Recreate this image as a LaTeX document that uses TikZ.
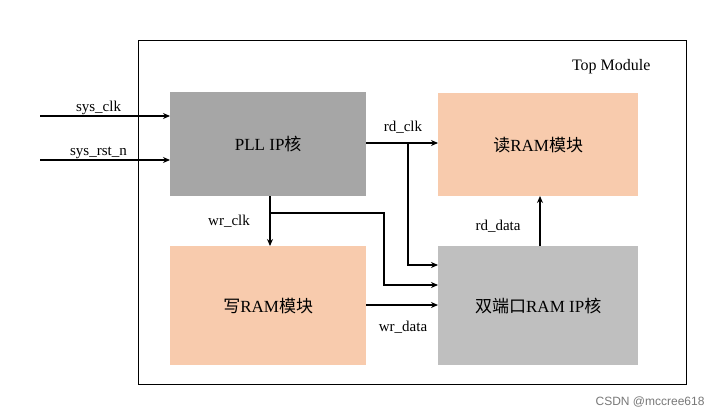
\documentclass[tikz,border=0pt]{standalone}
\usepackage{fontspec}
\setmainfont{Liberation Serif}
\newfontfamily\cjk{Noto Sans CJK SC}
\newfontfamily\wm{Liberation Sans}
\usetikzlibrary{arrows.meta}
\begin{document}
\begin{tikzpicture}[x=1pt,y=-1pt,
  box/.style={draw=none,inner sep=0pt,font=\fontsize{17}{20}\selectfont},
  lab/.style={font=\fontsize{15}{18}\selectfont,inner sep=1pt},
  arr/.style={draw=black,line width=1.3pt,-{Stealth[length=7pt,width=6pt]}}]
\useasboundingbox (0,0) rectangle (713,418);
\fill[white] (0,0) rectangle (713,418);
\node[draw,line width=1.3pt,minimum width=548,minimum height=344,anchor=north west] (top) at (138,40) {};
\node[anchor=east,font=\fontsize{16}{19}\selectfont] (tl) at (654,67) {Top Module};
\node[box,fill={rgb,255:red,166;green,166;blue,166},minimum width=196,minimum height=104,anchor=north west] (pll) at (170,92) {PLL IP{\cjk 核}};
\node[box,fill={rgb,255:red,248;green,203;blue,173},minimum width=200,minimum height=103,anchor=north west] (rd) at (438,93) {{\cjk 读}RAM{\cjk 模块}};
\node[box,fill={rgb,255:red,248;green,203;blue,173},minimum width=196,minimum height=119,anchor=north west] (wr) at (170,246) {{\cjk 写}RAM{\cjk 模块}};
\node[box,fill={rgb,255:red,191;green,191;blue,191},minimum width=200,minimum height=119,anchor=north west] (dp) at (438,246) {{\cjk 双端口}RAM IP{\cjk 核}};
\coordinate (s1) at (40,116);
\coordinate (s2) at (40,160);
\draw[arr] (s1) -- (s1 -| pll.west) node[lab,pos=0.45,above] {sys\_clk};
\draw[arr] (s2) -- (s2 -| pll.west) node[lab,pos=0.45,above] {sys\_rst\_n};
% rd_clk
\draw[arr] (366,143) -- (438,143);
\node[lab] (rdl) at (403,127) {rd\_clk};
\draw[arr] (408,143) -- (408,265) -- (438,265);
% wr_clk
\draw[arr] (270,196) -- (270,246);
\node[lab] (wrl) at (229,221) {wr\_clk};
\draw[arr] (270,213) -- (384,213) -- (384,285) -- (438,285);
% wr_data
\draw[arr] (366,305) -- (438,305);
\node[lab] (wdl) at (403,327) {wr\_data};
% rd_data
\draw[arr] (540,246) -- (540,196);
\node[lab] (rdd) at (498,226) {rd\_data};
\node[font=\wm\fontsize{12}{14}\selectfont,text={rgb,255:red,120;green,120;blue,120},anchor=east] (w) at (708,402) {CSDN @mccree618};
\end{tikzpicture}
\end{document}
